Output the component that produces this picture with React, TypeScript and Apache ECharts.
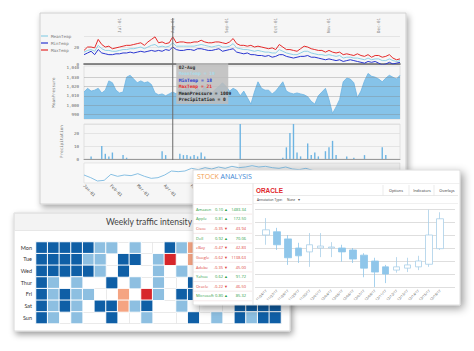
import React, { useEffect, useRef } from 'react';
import * as echarts from 'echarts';

const MONO = '"DejaVu Sans Mono", monospace';
const SANS = '"Open Sans", sans-serif';
const LATO = 'Lato, sans-serif';

// ---------- weather panel ----------
const mainTickLabels = ['Jul-01', 'Aug-01', 'Sep-01', 'Oct-01', 'Nov-01', 'Dec-01'];
const mainTickIndex = [10, 25, 40, 54, 69, 83];
const maxTemp = [
  16, 20, 20, 19, 29, 23, 20, 21, 18, 19,
  20, 21, 22, 22, 23, 24, 25, 22, 26, 29,
  32, 25, 26, 24, 25, 32, 25, 26, 26, 25,
  25, 26, 26, 28, 26, 25, 25, 26, 26, 25,
  24, 26, 30, 24, 22, 22, 21, 22, 20, 21,
  20, 19, 18, 19, 17, 23, 20, 17, 17, 16,
  15, 18, 21, 20, 18, 17, 16, 16, 14, 16,
  14, 13, 14, 11, 12, 11, 10, 12, 10, 9,
  11, 8, 10, 10, 8, 9, 11, 7, 5, 6,
];
const minTemp = [
  11, 13, 15, 11, 17, 13, 12, 11, 11, 12,
  12, 13, 13, 14, 13, 14, 15, 14, 15, 16,
  15, 16, 15, 17, 16, 20, 17, 16, 16, 17,
  17, 16, 18, 18, 17, 16, 16, 17, 18, 15,
  16, 17, 18, 14, 13, 12, 13, 11, 11, 10,
  10, 9, 10, 8, 9, 11, 11, 9, 8, 7,
  8, 9, 9, 10, 8, 8, 7, 6, 5, 6,
  5, 4, 5, 3, 4, 5, 4, 3, 2, 1,
  3, 2, 3, 1, -1, 0, 2, 0, 1, 2,
];
const meanTemp = [
  14, 16, 17, 15, 22, 18, 16, 16, 15, 15,
  16, 17, 17, 18, 18, 19, 20, 18, 20, 22,
  23, 20, 21, 20, 21, 25, 21, 21, 21, 21,
  21, 21, 22, 23, 22, 21, 20, 21, 22, 20,
  20, 21, 24, 19, 18, 17, 17, 16, 15, 16,
  15, 14, 14, 13, 13, 17, 15, 13, 12, 11,
  11, 13, 15, 15, 13, 12, 11, 11, 10, 11,
  10, 9, 10, 7, 8, 8, 7, 7, 6, 5,
  7, 5, 6, 6, 4, 4, 6, 4, 3, 4,
];
const meanPressure = [
  1014, 1018, 1015, 1016, 1018, 1013, 1016, 1026, 1024, 1016,
  1013, 1014, 1030, 1032, 1028, 1024, 1026, 1024, 1025, 1022,
  1013, 1011, 1012, 1010, 1012, 1014, 1012, 1017, 1015, 1019,
  1016, 1013, 1018, 1014, 1020, 1016, 1013, 1017, 1020, 1024,
  1020, 1015, 1018, 1016, 1010, 1015, 1008, 1001, 1014, 1025,
  1018, 1016, 1016, 1012, 1015, 1020, 1025, 1015, 1013, 1012,
  1013, 1012, 1011, 1009, 1004, 1001, 1010, 1014, 1018, 1006,
  991, 998, 1006, 1025, 1029, 1028, 1024, 1008, 1015, 1026,
  1034, 1031, 1030, 1028, 1025, 1029, 1032, 1030, 1028, 1032,
];
const precipitation = [
  0, 0, 2, 0, 0, 10, 4, 2, 5, 0,
  0, 3, 1, 0, 0, 0, 0, 0, 0, 0,
  0, 0, 6, 3, 0, 0, 0, 4, 3, 3,
  2, 3, 2, 5, 2, 0, 0, 0, 0, 0,
  0, 0, 0, 0, 30, 0, 0, 0, 0, 0,
  0, 0, 0, 0, 0, 0, 1, 9, 20, 32,
  5, 2, 0, 12, 3, 5, 2, 0, 6, 9,
  14, 3, 0, 0, 2, 0, 1, 0, 0, 3,
  0, 0, 0, 0, 9, 3, 0, 0, 0, 0,
];
const pressureGridValues = [990, 1000, 1010, 1020, 1030];
const navMonths = ['Jan-01', 'Feb-01', 'Mar-01', 'Apr-01', 'May-01', 'Jun-01', 'Jul-01', 'Aug-01', 'Sep-01', 'Oct-01', 'Nov-01', 'Dec-01'];
const navMeanTemp = [
  12, 8, 3, 4, 13, 10, 12, 11, 14, 10, 7, 8, 12, 18, 17, 18, 22, 20, 23, 21,
  24, 22, 25, 23, 24, 26, 24, 25, 23, 22, 24, 21, 20, 22, 19, 18, 17, 18, 15, 14,
  13, 12, 10, 11, 9, 8, 7, 6,
];
const navSelStart = 23;
const crosshairIndex = 25;
const tooltipDate = '02-Aug';
const tooltipNames = ['MeanTemp', 'MinTemp', 'MaxTemp', 'MeanPressure', 'Precipitation'];
const tooltipValues = [19, 18, 21, 1009, 0];
const tooltipColors = ['#a9dcea', '#2a36d0', '#e52a2a', '#222', '#222'];

// ---------- heatmap panel ----------
const days = ['Mon', 'Tue', 'Wed', 'Thur', 'Fri', 'Sat', 'Sun'];
const trafficLevels = [
  [2, 2, 2, 2, 2, 1, 1, 0, 1, 0, 0, 2, 1, 3, 1, 0, 2, 1, 0, 1, 2],
  [2, 2, 2, 2, 1, 1, 0, 2, 2, 0, 1, 4, 0, 3, 0, 1, 1, 0, 2, 0, 1],
  [2, 2, 2, 2, 2, 1, 0, 2, 0, 0, 1, 0, 1, 0, 1, 0, 0, 2, 1, 0, 0],
  [2, 1, 0, 1, 0, 0, 2, 0, 1, 0, 1, 0, 0, 2, 0, 1, 0, 0, 1, 0, 2],
  [2, 1, 2, 1, 1, 0, 0, 3, 0, 4, 1, 0, 2, 2, 1, 0, 0, 1, 0, 2, 0],
  [2, 1, 2, 1, 0, 2, 2, 3, 1, 2, 0, 0, 1, 0, 0, 0, 0, 2, 2, 2, 2],
  [2, 1, 0, 1, 0, 0, 2, 0, 0, 1, 0, 0, 0, 2, 0, 1, 0, 2, 1, 2, 2],
];
const levelColors = ['#ffffff', '#8dbfe1', '#0f5fa6', '#f5a482', '#d7262b'];

// ---------- stock panel ----------
const stockNames = ['Amazon', 'Apple', 'Cisco', 'Dell', 'eBay', 'Google', 'Adobe', 'Yahoo', 'Oracle', 'Microsoft'];
const stockChanges = [0.10, 0.81, -0.35, 0.92, -0.47, -0.62, -0.35, 0.62, -0.22, 0.80];
const stockPrices = [1483.34, 172.50, 43.94, 70.06, 42.83, 1138.63, 45.00, 91.72, 46.50, 85.32];
const candleDates = ['11/24/17', '11/27/17', '11/28/17', '11/29/17', '11/30/17', '12/01/17', '12/04/17', '12/05/17', '12/06/17', '12/07/17', '12/08/17', '12/11/17', '12/12/17', '12/13/17', '12/14/17', '12/15/17', '12/18/17'];
const candleOpen = [48.0, 48.5, 47.4, 46.0, 45.4, 46.0, 46.0, 46.0, 45.7, 44.9, 44.0, 43.1, 42.6, 42.9, 43.1, 43.5, 45.9];
const candleClose = [48.8, 46.5, 44.5, 44.8, 46.5, 46.3, 46.15, 45.4, 44.3, 42.9, 42.3, 42.0, 43.1, 43.4, 44.0, 48.0, 50.5];
const candleLow = [46.5, 45.7, 43.4, 43.7, 43.1, 44.6, 44.6, 43.9, 43.7, 41.5, 40.0, 40.6, 42.2, 42.3, 42.6, 43.1, 45.7];
const candleHigh = [50.6, 49.1, 48.0, 46.8, 48.3, 48.3, 46.9, 46.5, 46.0, 45.2, 44.5, 43.4, 44.6, 44.5, 44.8, 51.9, 51.5];
const stockButtons = ['Options', 'Indicators', 'Overlays'];

export default function App() {
  const ref = useRef<HTMLDivElement>(null);

  useEffect(() => {
    const chart = echarts.init(ref.current!, null, { renderer: 'svg' });

    const mainCats = maxTemp.map((_, i) => String(i));
    const mainLabelAt: Record<number, string> = {};
    mainTickIndex.forEach((idx, k) => { mainLabelAt[idx] = mainTickLabels[k]; });
    const navCats = navMeanTemp.map((_, j) => String(j));
    const hourSlots = trafficLevels[0].map((_, i) => String(i));

    const heatData: number[][] = [];
    trafficLevels.forEach((row, r) => row.forEach((v, c) => { if (v > 0) heatData.push([c, r, v]); }));

    const axisFont = { fontSize: 4.2, fontFamily: MONO, color: '#666' };

    const rowY = (k: number) => 209.3 + k * 9.63;
    const stockGraphics: any[] = [];
    stockNames.forEach((n, k) => {
      const up = stockChanges[k] >= 0;
      const col = up ? '#2e9e46' : '#e0463c';
      stockGraphics.push(
        { id: 'sn' + k, type: 'text', z: 23, style: { x: 196, y: rowY(k), text: n, fontSize: 4, fontFamily: SANS, fill: col, verticalAlign: 'middle' } },
        { id: 'sc' + k, type: 'text', z: 23, style: { x: 228, y: rowY(k), text: stockChanges[k].toFixed(2) + ' ' + (up ? '▲' : '▼'), fontSize: 4, fontFamily: SANS, fill: col, align: 'right', verticalAlign: 'middle' } },
        { id: 'sp' + k, type: 'text', z: 23, style: { x: 246, y: rowY(k), text: stockPrices[k].toFixed(2), fontSize: 4, fontFamily: SANS, fill: col, align: 'right', verticalAlign: 'middle' } },
      );
    });
    for (let k = 0; k <= stockNames.length; k++) {
      stockGraphics.push({ id: 'sl' + k, type: 'line', z: 22, shape: { x1: 193, y1: rowY(k) - 4.8, x2: 252, y2: rowY(k) - 4.8 }, style: { stroke: '#eedada', lineWidth: 0.6 } });
    }
    const btnX = [396, 422, 447];
    stockButtons.forEach((b, k) => {
      stockGraphics.push({ id: 'bt' + k, type: 'text', z: 23, style: { x: btnX[k], y: 190, text: b, fontSize: 3.8, fontFamily: SANS, fill: '#333', align: 'center', verticalAlign: 'middle' } });
      stockGraphics.push({ id: 'bs' + k, type: 'line', z: 22, shape: { x1: btnX[k] - 13, y1: 185, x2: btnX[k] - 13, y2: 195.5 }, style: { stroke: '#ddd', lineWidth: 0.6 } });
    });

    const graphics: any[] = [
      // weather panel
      { id: 'wbg', type: 'rect', z: -5, shape: { x: 40, y: 13, width: 366, height: 191 }, style: { fill: '#f6f6f6', stroke: '#d0d0d0', lineWidth: 1, shadowBlur: 6, shadowOffsetX: 2, shadowOffsetY: 3, shadowColor: 'rgba(0,0,0,0.35)' } },
      // heatmap panel
      { id: 'hbg', type: 'rect', z: -5, shape: { x: 14, y: 213, width: 276, height: 118 }, style: { fill: '#ffffff', stroke: '#d8d8d8', lineWidth: 1, shadowBlur: 6, shadowOffsetX: 2, shadowOffsetY: 3, shadowColor: 'rgba(0,0,0,0.4)' } },
      { id: 'hbar', type: 'rect', z: -4, shape: { x: 14.5, y: 213.5, width: 275, height: 17 }, style: { fill: '#f3f3f3', stroke: '#e2e2e2', lineWidth: 0.8 } },
      { id: 'htitle', type: 'text', z: -3, style: { x: 149, y: 222, text: 'Weekly traffic intensity', fontSize: 8.5, fontFamily: LATO, fill: '#444', align: 'center', verticalAlign: 'middle' } },
      // stock panel
      { id: 'sbg', type: 'rect', z: 20, shape: { x: 193, y: 170, width: 267, height: 135 }, style: { fill: '#ffffff', stroke: '#d5d5d5', lineWidth: 0.8, shadowBlur: 8, shadowOffsetX: 3, shadowOffsetY: 3, shadowColor: 'rgba(0,0,0,0.4)' } },
      { id: 'st1', type: 'text', z: 23, style: { x: 197, y: 176.5, text: 'STOCK', fontSize: 7, fontFamily: SANS, fill: '#f2a050', verticalAlign: 'middle' } },
      { id: 'st2', type: 'text', z: 23, style: { x: 220.5, y: 176.5, text: 'ANALYSIS', fontSize: 7, fontFamily: SANS, fill: '#3b86d4', verticalAlign: 'middle' } },
      { id: 'sh1', type: 'line', z: 22, shape: { x1: 193, y1: 183.5, x2: 460, y2: 183.5 }, style: { stroke: '#e6e6e6', lineWidth: 0.6 } },
      { id: 'sv1', type: 'line', z: 22, shape: { x1: 253, y1: 183.5, x2: 253, y2: 305 }, style: { stroke: '#dcdcdc', lineWidth: 0.8 } },
      { id: 'sh2', type: 'line', z: 22, shape: { x1: 253, y1: 195.5, x2: 458, y2: 195.5 }, style: { stroke: '#dcdcdc', lineWidth: 0.6 } },
      { id: 'sh3', type: 'line', z: 22, shape: { x1: 253, y1: 203.5, x2: 458, y2: 203.5 }, style: { stroke: '#e6e6e6', lineWidth: 0.6 } },
      { id: 'orcl', type: 'text', z: 23, style: { x: 256, y: 190, text: 'ORACLE', fontSize: 6.4, fontWeight: 'bold', fontFamily: '"Liberation Sans", sans-serif', fill: '#e0262b', verticalAlign: 'middle' } },
      { id: 'ann1', type: 'text', z: 23, style: { x: 257, y: 199.5, text: 'Annotation Type:', fontSize: 3.2, fontFamily: SANS, fill: '#333', verticalAlign: 'middle' } },
      { id: 'ann2', type: 'text', z: 23, style: { x: 287, y: 199.5, text: 'None', fontSize: 3.2, fontFamily: SANS, fill: '#333', verticalAlign: 'middle' } },
      { id: 'ann3', type: 'text', z: 23, style: { x: 298, y: 199.5, text: '▾', fontSize: 4, fontFamily: SANS, fill: '#555', verticalAlign: 'middle' } },
      ...stockGraphics,
    ];

    const option: any = {
      animation: false,
      backgroundColor: '#ffffff',
      legend: {
        data: ['MeanTemp', 'MinTemp', 'MaxTemp'],
        orient: 'vertical', left: 41, top: 34, itemGap: 3, itemWidth: 7, itemHeight: 1.2, icon: 'rect', padding: 0,
        textStyle: { fontSize: 4.2, fontFamily: MONO, color: '#777', padding: [0, 0, 0, -2] },
      },
      grid: [
        { left: 84, top: 36, width: 316, height: 28 },
        { left: 84, top: 66, width: 316, height: 53, show: true, borderColor: '#d5d5d5', borderWidth: 0.6, backgroundColor: 'transparent' },
        { left: 84, top: 124, width: 316, height: 35, show: true, borderColor: '#d5d5d5', borderWidth: 0.6, backgroundColor: 'transparent' },
        { left: 84, top: 163, width: 316, height: 20, show: true, borderColor: '#d8d8d8', borderWidth: 0.6, backgroundColor: '#fbfbfb' },
        { left: 36, top: 242, width: 245, height: 81.6 },
        { left: 255, top: 209, width: 200, height: 78 },
        { left: 260.6, top: 209, width: 184.9, height: 78 },
      ],
      xAxis: [
        { gridIndex: 0, type: 'category', position: 'top', data: mainCats, boundaryGap: false, axisLine: { lineStyle: { color: '#cfcfcf', width: 0.7 } }, axisTick: { show: false }, axisLabel: { interval: 0, rotate: 90, fontSize: 4.2, fontFamily: MONO, color: '#8a8a8a', margin: 3, formatter: (_v: string, i: number) => mainLabelAt[i] || '' }, splitLine: { show: false } },
        { gridIndex: 0, type: 'category', position: 'bottom', data: mainCats, boundaryGap: false, axisLine: { lineStyle: { color: '#666', width: 1.6 } }, axisTick: { show: false }, axisLabel: { show: false } },
        { gridIndex: 1, type: 'category', data: mainCats, boundaryGap: false, show: false },
        { gridIndex: 2, type: 'category', data: mainCats, boundaryGap: false, axisLine: { lineStyle: { color: '#888', width: 0.8 } }, axisTick: { show: false }, axisLabel: { show: false } },
        { gridIndex: 3, type: 'category', data: navCats, boundaryGap: false, axisLine: { show: false }, axisTick: { show: false }, axisLabel: { interval: 0, rotate: -45, fontSize: 4.2, fontFamily: MONO, color: '#555', margin: 2, formatter: (_v: string, i: number) => (i % 4 === 0 ? navMonths[i / 4] : '') } },
        { gridIndex: 4, type: 'category', data: hourSlots, axisLine: { show: false }, axisTick: { show: false }, axisLabel: { show: false }, splitLine: { show: true, lineStyle: { color: '#e4e4e4', width: 0.8 } } },
        { gridIndex: 5, type: 'value', min: 0, max: 1, show: false },
        { gridIndex: 6, type: 'category', data: candleDates, z: 21, axisLine: { show: false }, axisTick: { show: false }, axisLabel: { interval: 0, rotate: 45, fontSize: 3.4, fontFamily: SANS, color: '#555', margin: 3 } },
      ],
      yAxis: [
        { gridIndex: 0, type: 'value', min: 0, max: 33, interval: 20, axisLine: { show: false }, axisTick: { show: false }, axisLabel: { ...axisFont, margin: 5, showMaxLabel: false }, splitLine: { lineStyle: { color: '#dcdcdc', width: 0.7 } } },
        { gridIndex: 1, type: 'value', min: 985, max: 1042, interval: 5, name: 'MeanPressure', nameLocation: 'middle', nameRotate: 90, nameGap: 27, nameTextStyle: { fontSize: 4.2, fontFamily: MONO, color: '#777' }, axisLine: { show: false }, axisTick: { show: false }, axisLabel: { ...axisFont, margin: 5, showMaxLabel: false, formatter: (v: number) => (v % 10 === 0 ? v.toLocaleString('en-US') : '') }, splitLine: { show: false } },
        { gridIndex: 2, type: 'value', min: 0, max: 27, interval: 10, name: 'Precipitation', nameLocation: 'middle', nameRotate: 90, nameGap: 20, nameTextStyle: { fontSize: 4.2, fontFamily: MONO, color: '#777' }, axisLine: { show: false }, axisTick: { show: false }, axisLabel: { ...axisFont, margin: 5, showMaxLabel: false }, splitLine: { lineStyle: { color: '#dcdcdc', width: 0.7 } } },
        { gridIndex: 3, type: 'value', min: 0, max: 30, show: false },
        { gridIndex: 4, type: 'category', data: days, inverse: true, axisLine: { show: false }, axisTick: { show: false }, axisLabel: { fontSize: 5.5, fontFamily: LATO, color: '#333', margin: 4 }, splitLine: { show: true, lineStyle: { color: '#e4e4e4', width: 0.8 } } },
        { gridIndex: 5, type: 'value', min: 40, max: 52, interval: 2, z: 21, axisLine: { show: false }, axisTick: { show: false }, axisLabel: { show: false }, splitLine: { lineStyle: { color: '#d6d6d6', width: 0.8 } } },
        { gridIndex: 6, type: 'value', min: 40, max: 52, interval: 2, show: false },
      ],
      visualMap: {
        type: 'piecewise', show: false, seriesIndex: 6, dimension: 2,
        pieces: levelColors.map((c, i) => ({ value: i, color: c })),
      },
      series: [
        { name: 'MeanTemp', type: 'line', xAxisIndex: 0, yAxisIndex: 0, data: meanTemp, symbol: 'none', color: '#8fd0e6', lineStyle: { width: 1 } },
        { name: 'MinTemp', type: 'line', xAxisIndex: 0, yAxisIndex: 0, data: minTemp, symbol: 'none', color: '#2a36d0', lineStyle: { width: 1 } },
        { name: 'MaxTemp', type: 'line', xAxisIndex: 0, yAxisIndex: 0, data: maxTemp, symbol: 'none', color: '#e52a2a', lineStyle: { width: 1 } },
        {
          name: 'MeanPressure', type: 'line', xAxisIndex: 2, yAxisIndex: 1, data: meanPressure, symbol: 'none',
          color: '#6db4e2', lineStyle: { width: 0.8, color: '#6db4e2' }, areaStyle: { color: '#86c3e9', opacity: 1, origin: 'start' },
          markLine: { silent: true, symbol: 'none', label: { show: false }, lineStyle: { color: 'rgba(130,130,130,0.5)', width: 0.7, type: 'solid' }, data: pressureGridValues.map((v) => ({ yAxis: v })) },
        },
        { name: 'Precipitation', type: 'bar', xAxisIndex: 3, yAxisIndex: 2, data: precipitation, barWidth: 1.4, color: '#6db4e2' },
        {
          name: 'NavMean', type: 'line', xAxisIndex: 4, yAxisIndex: 3, data: navMeanTemp, symbol: 'none', color: '#7ab9e0', lineStyle: { width: 0.9 },
          markArea: { silent: true, itemStyle: { color: 'rgba(120,120,120,0.12)' }, data: [[{ xAxis: navSelStart }, { xAxis: navCats.length - 1 }]] },
        },
        { name: 'Traffic', type: 'heatmap', xAxisIndex: 5, yAxisIndex: 4, data: heatData, itemStyle: { borderColor: '#ffffff', borderWidth: 1 } },
        {
          name: 'ORCL', type: 'candlestick', xAxisIndex: 7, yAxisIndex: 6, z: 22, barWidth: 7,
          data: candleOpen.map((o, i) => [o, candleClose[i], candleLow[i], candleHigh[i]]),
          itemStyle: { color: '#ffffff', color0: '#8fc6ea', borderColor: '#a9cfe8', borderColor0: '#8fc6ea', borderWidth: 0.8 },
        },
      ],
      graphic: { elements: graphics },
    };

    chart.setOption(option);

    const cx = chart.convertToPixel({ xAxisIndex: 0 }, crosshairIndex) as number;
    const extra: any[] = [
      { id: 'cross', type: 'line', z: 9, shape: { x1: cx, y1: 18, x2: cx, y2: 160 }, style: { stroke: '#6a6a6a', lineWidth: 1 } },
      { id: 'tipbox', type: 'rect', z: 10, shape: { x: cx + 3.5, y: 63, width: 52, height: 41 }, style: { fill: 'rgba(188,188,188,0.85)' } },
      { id: 'tip0', type: 'text', z: 11, style: { x: cx + 6, y: 67, text: tooltipDate, fontSize: 4.6, fontWeight: 'bold', fontFamily: MONO, fill: '#333', verticalAlign: 'middle' } },
    ];
    tooltipNames.forEach((n, k) => {
      extra.push({ id: 'tip' + (k + 1), type: 'text', z: 11, style: { x: cx + 6, y: 73.5 + k * 6.5, text: n + ' = ' + tooltipValues[k], fontSize: 4.6, fontWeight: 'bold', fontFamily: MONO, fill: tooltipColors[k], verticalAlign: 'middle' } });
    });
    chart.setOption({ graphic: { elements: extra } });

    return () => chart.dispose();
  }, []);

  return <div ref={ref} style={{ position: 'absolute', left: 0, top: 0, width: 474, height: 351 }} />;
}
